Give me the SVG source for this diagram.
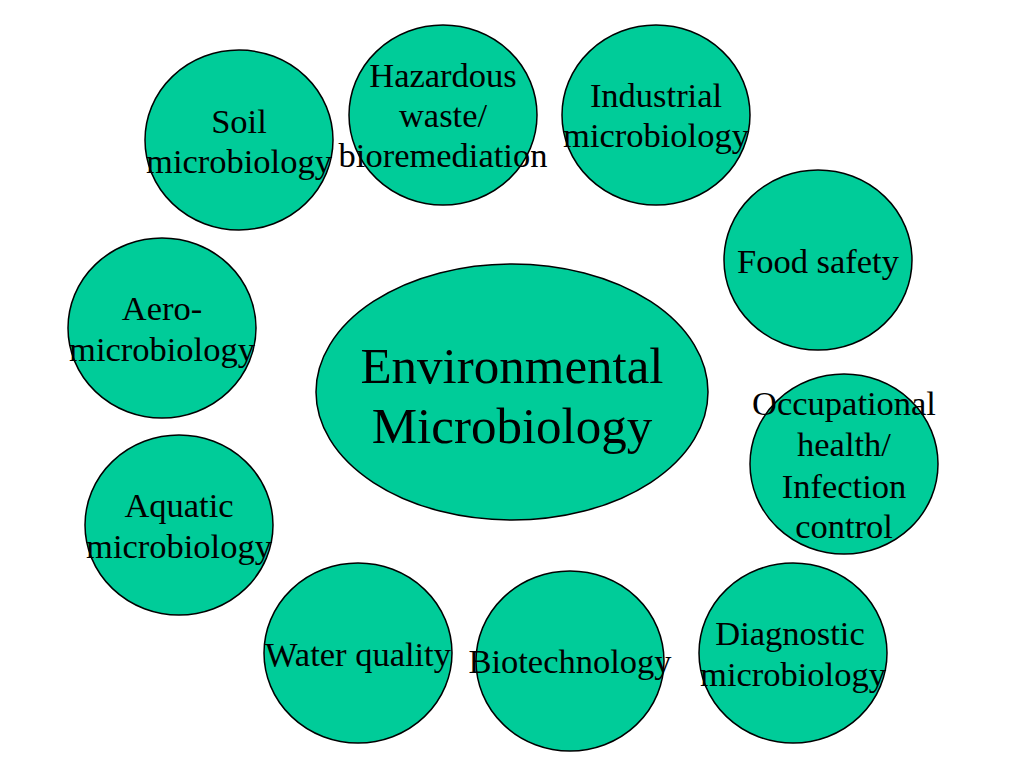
<svg xmlns="http://www.w3.org/2000/svg" width="1024" height="768" viewBox="0 0 1024 768">
<style>
.n{fill:#00CC99;stroke:#000;stroke-width:1.5}
.t{font-family:"Liberation Serif","Times New Roman",serif;font-size:34.5px;fill:#000;text-anchor:middle}
.c{font-size:51px}
</style>
<rect width="1024" height="768" fill="#fff"/>
<g id="connectors"></g>
<g id="soil"><ellipse class="n" cx="239" cy="140" rx="94" ry="90"/><text class="t" x="239" y="133">Soil</text><text class="t" x="239" y="173">microbiology</text></g>
<g id="hazardous"><ellipse class="n" cx="443" cy="115" rx="94" ry="90"/><text class="t" x="443" y="87">Hazardous</text><text class="t" x="443" y="127">waste/</text><text class="t" x="443" y="167">bioremediation</text></g>
<g id="industrial"><ellipse class="n" cx="656" cy="115" rx="94" ry="90"/><text class="t" x="656" y="107">Industrial</text><text class="t" x="656" y="147">microbiology</text></g>
<g id="food"><ellipse class="n" cx="818" cy="260" rx="94" ry="90"/><text class="t" x="818" y="273">Food safety</text></g>
<g id="aero"><ellipse class="n" cx="162" cy="328" rx="94" ry="90"/><text class="t" x="162" y="320">Aero-</text><text class="t" x="162" y="361">microbiology</text></g>
<g id="central"><ellipse class="n" cx="512" cy="392" rx="196" ry="128"/><text class="t c" x="512" y="383">Environmental</text><text class="t c" x="512" y="443">Microbiology</text></g>
<g id="occupational"><ellipse class="n" cx="844" cy="464" rx="94" ry="90"/><text class="t" x="844" y="415">Occupational</text><text class="t" x="844" y="456">health/</text><text class="t" x="844" y="498">Infection</text><text class="t" x="844" y="538">control</text></g>
<g id="aquatic"><ellipse class="n" cx="179" cy="525" rx="94" ry="90"/><text class="t" x="179" y="517">Aquatic</text><text class="t" x="179" y="558">microbiology</text></g>
<g id="water"><ellipse class="n" cx="358" cy="653" rx="94" ry="90"/><text class="t" x="358" y="666">Water quality</text></g>
<g id="biotech"><ellipse class="n" cx="570" cy="661" rx="94" ry="90"/><text class="t" x="570" y="673">Biotechnology</text></g>
<g id="diagnostic"><ellipse class="n" cx="793" cy="653" rx="94" ry="90"/><text class="t" x="790" y="645">Diagnostic</text><text class="t" x="793" y="686">microbiology</text></g>
</svg>
